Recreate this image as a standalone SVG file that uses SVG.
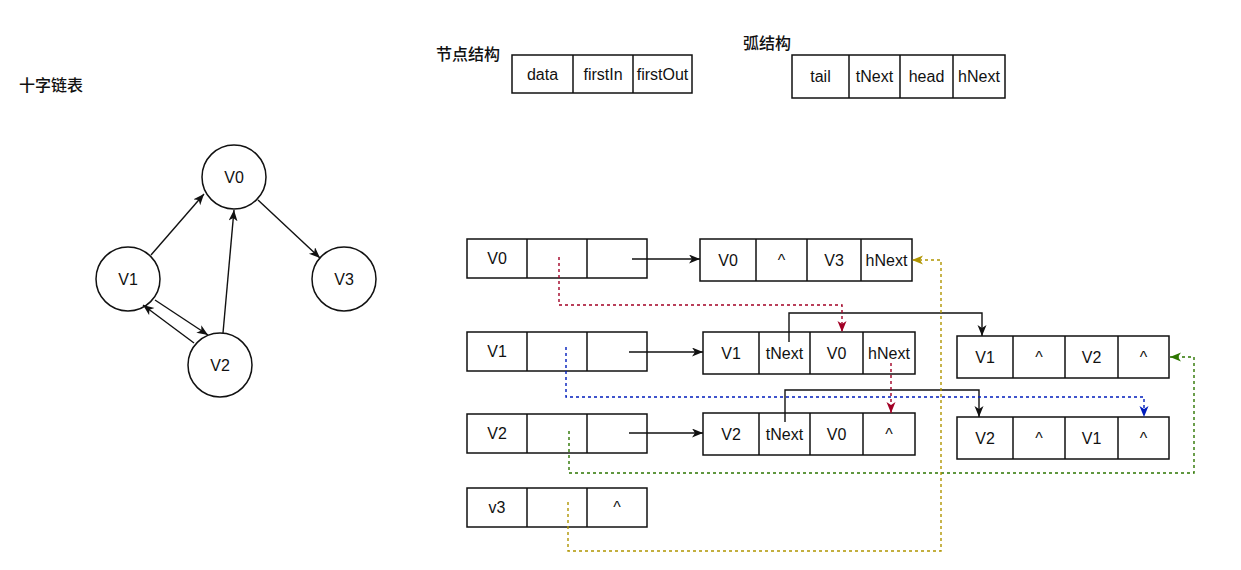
<svg xmlns="http://www.w3.org/2000/svg" width="1241" height="570" viewBox="0 0 1241 570">
<style>
text{font-family:"Liberation Sans","Noto Sans CJK SC",sans-serif;font-size:16px;fill:#111;text-anchor:middle}
.cjk{font-family:"Noto Sans CJK SC","Liberation Sans",sans-serif;text-anchor:start;font-weight:500}
.box{fill:#fff;stroke:#111;stroke-width:1.5}
.div{stroke:#111;stroke-width:1.5}
.circ{fill:#fff;stroke:#111;stroke-width:1.5}
.e{fill:none;stroke:#111;stroke-width:1.4}
.d{fill:none;stroke-width:1.4;stroke-dasharray:3 3}
</style>
<defs>
<marker id="aK" markerUnits="userSpaceOnUse" markerWidth="12" markerHeight="10" refX="11" refY="4.5" orient="auto"><path d="M0,0 L11,4.5 L0,9 L3,4.5 z" fill="#111"/></marker>
<marker id="aR" markerUnits="userSpaceOnUse" markerWidth="12" markerHeight="10" refX="11" refY="4.5" orient="auto"><path d="M0,0 L11,4.5 L0,9 L3,4.5 z" fill="#a20025"/></marker>
<marker id="aB" markerUnits="userSpaceOnUse" markerWidth="12" markerHeight="10" refX="11" refY="4.5" orient="auto"><path d="M0,0 L11,4.5 L0,9 L3,4.5 z" fill="#001dbc"/></marker>
<marker id="aG" markerUnits="userSpaceOnUse" markerWidth="12" markerHeight="10" refX="11" refY="4.5" orient="auto"><path d="M0,0 L11,4.5 L0,9 L3,4.5 z" fill="#2d7600"/></marker>
<marker id="aY" markerUnits="userSpaceOnUse" markerWidth="12" markerHeight="10" refX="11" refY="4.5" orient="auto"><path d="M0,0 L11,4.5 L0,9 L3,4.5 z" fill="#b09500"/></marker>
</defs>
<rect width="1241" height="570" fill="#fff"/>

<g id="labels">
<text class="cjk" x="19" y="91">十字链表</text>
<text class="cjk" x="436" y="60">节点结构</text>
<text class="cjk" x="743" y="49">弧结构</text>
</g>

<g id="graph-V0"><circle class="circ" cx="234" cy="177" r="32"/><text x="234" y="183">V0</text></g>
<g id="graph-V1"><circle class="circ" cx="128" cy="279" r="32"/><text x="128" y="285">V1</text></g>
<g id="graph-V2"><circle class="circ" cx="220" cy="365" r="32"/><text x="220" y="371">V2</text></g>
<g id="graph-V3"><circle class="circ" cx="344" cy="279" r="32"/><text x="344" y="285">V3</text></g>

<g id="node-struct">
<rect class="box" x="512" y="55" width="180" height="38"/>
<line class="div" x1="573" y1="55" x2="573" y2="93"/><line class="div" x1="633" y1="55" x2="633" y2="93"/>
<text x="542.5" y="79.5">data</text><text x="603" y="79.5">firstIn</text><text x="662.5" y="79.5">firstOut</text>
</g>
<g id="arc-struct">
<rect class="box" x="792" y="55" width="213" height="43"/>
<line class="div" x1="849" y1="55" x2="849" y2="98"/><line class="div" x1="900" y1="55" x2="900" y2="98"/><line class="div" x1="953" y1="55" x2="953" y2="98"/>
<text x="820.5" y="82">tail</text><text x="874.5" y="82">tNext</text><text x="926.5" y="82">head</text><text x="979" y="82">hNext</text>
</g>

<g id="vertex-V0">
<rect class="box" x="467" y="239" width="180" height="39"/>
<line class="div" x1="527" y1="239" x2="527" y2="278"/><line class="div" x1="587" y1="239" x2="587" y2="278"/>
<text x="497" y="264">V0</text>
</g>
<g id="vertex-V1">
<rect class="box" x="467" y="332" width="180" height="39"/>
<line class="div" x1="527" y1="332" x2="527" y2="371"/><line class="div" x1="587" y1="332" x2="587" y2="371"/>
<text x="497" y="357">V1</text>
</g>
<g id="vertex-V2">
<rect class="box" x="467" y="414" width="180" height="39"/>
<line class="div" x1="527" y1="414" x2="527" y2="453"/><line class="div" x1="587" y1="414" x2="587" y2="453"/>
<text x="497" y="439">V2</text>
</g>
<g id="vertex-V3">
<rect class="box" x="467" y="488" width="180" height="39"/>
<line class="div" x1="527" y1="488" x2="527" y2="527"/><line class="div" x1="587" y1="488" x2="587" y2="527"/>
<text x="497" y="513">v3</text><text x="617" y="513">^</text>
</g>

<g id="arc-V0-V3">
<rect class="box" x="700" y="239" width="212" height="42"/>
<line class="div" x1="756" y1="239" x2="756" y2="281"/><line class="div" x1="807" y1="239" x2="807" y2="281"/><line class="div" x1="861" y1="239" x2="861" y2="281"/>
<text x="728" y="265.5">V0</text><text x="781.5" y="265.5">^</text><text x="834" y="265.5">V3</text><text x="886.5" y="265.5">hNext</text>
</g>
<g id="arc-V1-V0">
<rect class="box" x="703" y="332" width="212" height="42"/>
<line class="div" x1="759" y1="332" x2="759" y2="374"/><line class="div" x1="810" y1="332" x2="810" y2="374"/><line class="div" x1="863" y1="332" x2="863" y2="374"/>
<text x="731" y="358.5">V1</text><text x="784.5" y="358.5">tNext</text><text x="836.5" y="358.5">V0</text><text x="889" y="358.5">hNext</text>
</g>
<g id="arc-V2-V0">
<rect class="box" x="703" y="413" width="212" height="42"/>
<line class="div" x1="759" y1="413" x2="759" y2="455"/><line class="div" x1="810" y1="413" x2="810" y2="455"/><line class="div" x1="863" y1="413" x2="863" y2="455"/>
<text x="731" y="439.5">V2</text><text x="784.5" y="439.5">tNext</text><text x="836.5" y="439.5">V0</text><text x="889" y="439.5">^</text>
</g>
<g id="arc-V1-V2">
<rect class="box" x="957" y="336" width="212" height="42"/>
<line class="div" x1="1013" y1="336" x2="1013" y2="378"/><line class="div" x1="1065" y1="336" x2="1065" y2="378"/><line class="div" x1="1118" y1="336" x2="1118" y2="378"/>
<text x="985" y="362.5">V1</text><text x="1039" y="362.5">^</text><text x="1091.5" y="362.5">V2</text><text x="1143.5" y="362.5">^</text>
</g>
<g id="arc-V2-V1">
<rect class="box" x="957" y="417" width="212" height="42"/>
<line class="div" x1="1013" y1="417" x2="1013" y2="459"/><line class="div" x1="1065" y1="417" x2="1065" y2="459"/><line class="div" x1="1118" y1="417" x2="1118" y2="459"/>
<text x="985" y="443.5">V2</text><text x="1039" y="443.5">^</text><text x="1091.5" y="443.5">V1</text><text x="1143.5" y="443.5">^</text>
</g>

<g id="connectors">
<path class="e" d="M151,255 L204,194" marker-end="url(#aK)"/>
<path class="e" d="M258,200 L320,258" marker-end="url(#aK)"/>
<path class="e" d="M223,333 L234,210" marker-end="url(#aK)"/>
<path class="e" d="M155,300 L208,335" marker-end="url(#aK)"/>
<path class="e" d="M194,343 L143,305" marker-end="url(#aK)"/>

<path class="e" d="M632,259 H700" marker-end="url(#aK)"/>
<path class="e" d="M629,352 H703" marker-end="url(#aK)"/>
<path class="e" d="M629,433 H703" marker-end="url(#aK)"/>
<path class="e" d="M789,342 V313 H982 V336" marker-end="url(#aK)"/>
<path class="e" d="M785,422 V390 H979 V417" marker-end="url(#aK)"/>

<path class="d" stroke="#a20025" d="M559,257 V305 H842 V332" marker-end="url(#aR)"/>
<path class="d" stroke="#a20025" d="M891,363 V413" marker-end="url(#aR)"/>
<path class="d" stroke="#001dbc" d="M566,347 V397 H1144 V417" marker-end="url(#aB)"/>
<path class="d" stroke="#2d7600" d="M569,431 V473 H1194 V357 H1170" marker-end="url(#aG)"/>
<path class="d" stroke="#b09500" d="M568,502 V551 H941 V260 H912" marker-end="url(#aY)"/>
</g>
</svg>
